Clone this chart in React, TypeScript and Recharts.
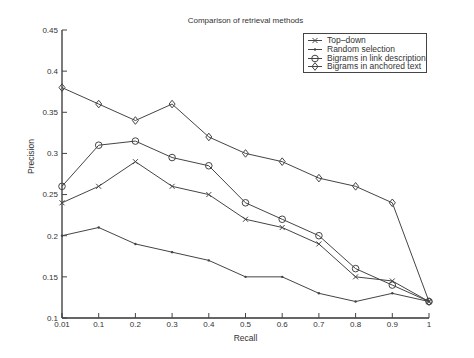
import React from 'react';
import { LineChart, Line, XAxis, YAxis } from 'recharts';

const recall = ['0.01', '0.1', '0.2', '0.3', '0.4', '0.5', '0.6', '0.7', '0.8', '0.9', '1'];
const topDown = [0.24, 0.26, 0.29, 0.26, 0.25, 0.22, 0.21, 0.19, 0.15, 0.145, 0.12];
const randomSel = [0.2, 0.21, 0.19, 0.18, 0.17, 0.15, 0.15, 0.13, 0.12, 0.13, 0.12];
const bigramsLink = [0.26, 0.31, 0.315, 0.295, 0.285, 0.24, 0.22, 0.2, 0.16, 0.14, 0.12];
const bigramsAnchored = [0.38, 0.36, 0.34, 0.36, 0.32, 0.3, 0.29, 0.27, 0.26, 0.24, 0.12];
const yTicks = [0.1, 0.15, 0.2, 0.25, 0.3, 0.35, 0.4, 0.45];
const yLabels = ['0.1', '0.15', '0.2', '0.25', '0.3', '0.35', '0.4', '0.45'];

const data = recall.map((r, i) => ({
  recall: r,
  topDown: topDown[i],
  randomSel: randomSel[i],
  bigramsLink: bigramsLink[i],
  bigramsAnchored: bigramsAnchored[i],
}));

const INK = '#444';
const FONT = '"Liberation Sans", Arial, sans-serif';

type Kind = 'x' | 'dot' | 'circle' | 'diamond';

const Marker = ({ kind, cx, cy }: { kind: Kind; cx: number; cy: number }) => {
  if (kind === 'x')
    return (
      <path d={`M${cx - 2.5},${cy - 2.5}L${cx + 2.5},${cy + 2.5}M${cx - 2.5},${cy + 2.5}L${cx + 2.5},${cy - 2.5}`} stroke={INK} strokeWidth={1} />
    );
  if (kind === 'dot') return <circle cx={cx} cy={cy} r={1.2} fill={INK} />;
  if (kind === 'circle') return <circle cx={cx} cy={cy} r={3.3} fill="none" stroke={INK} strokeWidth={1} />;
  return (
    <path d={`M${cx},${cy - 3.8}L${cx + 3},${cy}L${cx},${cy + 3.8}L${cx - 3},${cy}Z`} fill="none" stroke={INK} strokeWidth={1} />
  );
};

const dotFor = (kind: Kind) => (p: any) => <Marker key={`${kind}-${p.index}`} kind={kind} cx={p.cx} cy={p.cy} />;

const legendItems: { label: string; kind: Kind }[] = [
  { label: 'Top\u2013down', kind: 'x' },
  { label: 'Random selection', kind: 'dot' },
  { label: 'Bigrams in link description', kind: 'circle' },
  { label: 'Bigrams in anchored text', kind: 'diamond' },
];

const LegendBox = () => (
  <div
    style={{
      position: 'absolute',
      left: 303,
      top: 33,
      width: 124,
      height: 40,
      boxSizing: 'border-box',
      border: `1px solid ${INK}`,
      background: '#fff',
      padding: '2px 0 0 3px',
      fontFamily: FONT,
      fontSize: 8.5,
      color: '#333',
      whiteSpace: 'nowrap',
    }}
  >
    {legendItems.map((it) => (
      <div key={it.label} style={{ display: 'flex', alignItems: 'center', height: 8.8, lineHeight: '8.8px' }}>
        <svg width={16} height={9} style={{ marginRight: 4, flexShrink: 0 }}>
          <line x1={1} y1={4.5} x2={15} y2={4.5} stroke={INK} strokeWidth={1} />
          <Marker kind={it.kind} cx={8} cy={4.5} />
        </svg>
        <span>{it.label}</span>
      </div>
    ))}
  </div>
);

export default function App() {
  const tickStyle = { fill: '#333', fontSize: 8, fontFamily: FONT };
  const blank = () => '';
  return (
    <div style={{ position: 'absolute', left: 0, top: 0, width: 474, height: 358, background: '#fff' }}>
      <div style={{ position: 'absolute', left: 62, width: 367, top: 16, textAlign: 'center', fontFamily: FONT, fontSize: 8, color: '#333' }}>
        Comparison of retrieval methods
      </div>
      <LineChart width={474} height={358} data={data} margin={{ top: 30, right: 45, left: 22, bottom: 0 }}>
        <XAxis
          xAxisId="top"
          orientation="top"
          dataKey="recall"
          height={0}
          tickSize={-5}
          tickFormatter={blank}
          tick={tickStyle}
          tickLine={{ stroke: INK }}
          axisLine={{ stroke: INK }}
        />
        <XAxis
          dataKey="recall"
          height={40}
          tickSize={-5}
          tickMargin={8}
          tick={tickStyle}
          tickLine={{ stroke: INK }}
          axisLine={{ stroke: '#333', strokeWidth: 1.3 }}
          label={{ value: 'Recall', position: 'insideBottom', offset: 17, fill: '#333', fontSize: 8.5, fontFamily: FONT }}
        />
        <YAxis
          domain={[0.1, 0.45]}
          ticks={yTicks}
          type="number"
          width={40}
          tickSize={-5}
          tickMargin={9}
          tickFormatter={(v: number) => yLabels[yTicks.indexOf(v)] ?? String(v)}
          tick={tickStyle}
          tickLine={{ stroke: INK }}
          axisLine={{ stroke: '#333', strokeWidth: 1.3 }}
          label={{ value: 'Precision', angle: -90, position: 'insideLeft', offset: 9, fill: '#333', fontSize: 8.5, fontFamily: FONT }}
        />
        <YAxis
          yAxisId="right"
          orientation="right"
          domain={[0.1, 0.45]}
          ticks={yTicks}
          type="number"
          width={0}
          tickSize={-5}
          tickFormatter={blank}
          tick={tickStyle}
          tickLine={{ stroke: INK }}
          axisLine={{ stroke: INK }}
        />
        <Line dataKey="topDown" name="Top-down" stroke={INK} strokeWidth={1} dot={dotFor('x')} activeDot={false} isAnimationActive={false} />
        <Line dataKey="randomSel" name="Random selection" stroke={INK} strokeWidth={1} dot={dotFor('dot')} activeDot={false} isAnimationActive={false} />
        <Line dataKey="bigramsLink" name="Bigrams in link description" stroke={INK} strokeWidth={1} dot={dotFor('circle')} activeDot={false} isAnimationActive={false} />
        <Line dataKey="bigramsAnchored" name="Bigrams in anchored text" stroke={INK} strokeWidth={1} dot={dotFor('diamond')} activeDot={false} isAnimationActive={false} />
      </LineChart>
      <LegendBox />
    </div>
  );
}
